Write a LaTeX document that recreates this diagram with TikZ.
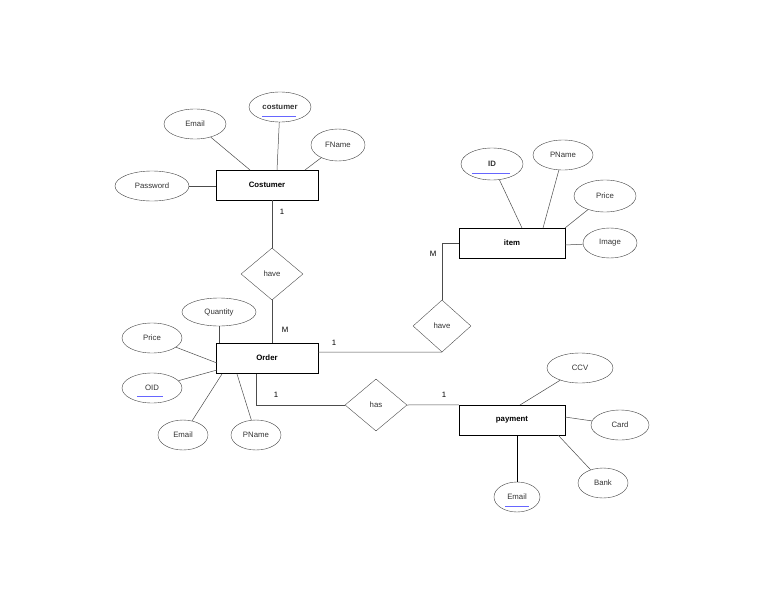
\documentclass[tikz,border=0pt]{standalone}
\usepackage{fontspec}
\setmainfont{Liberation Sans}
\usetikzlibrary{shapes.geometric}
\begin{document}
\begin{tikzpicture}[x=1pt,y=-1pt,font=\fontsize{7.8}{9}\selectfont,
  ent/.style={draw,minimum width=102pt,minimum height=30pt,font=\fontsize{7.8}{9}\selectfont\bfseries,inner sep=0pt},
  att/.style={draw,ellipse,inner sep=0pt,color=black!75,text=black!80},
  rel/.style={draw,diamond,aspect=1.2,minimum width=62pt,minimum height=52pt,inner sep=0pt,color=black!70,text=black!80},
  ln/.style={draw,black!70,line width=0.5pt},
  ul/.style={draw,blue!60!white,line width=0.6pt}]
\useasboundingbox (0,0) rectangle (768,594);
% Costumer
\node[ent] (cost) at (267,185) {Costumer};
\node[att,minimum width=62pt,minimum height=30pt] (cemail) at (195,124) {Email};
\node[att,minimum width=62pt,minimum height=30pt,font=\fontsize{7.8}{9}\selectfont\bfseries] (cid) at (280,107) {costumer};
\draw[ul] (262,116) -- (296,116);
\node[att,minimum width=54pt,minimum height=32pt] (cfn) at (338,145) {FName};
\node[att,minimum width=74pt,minimum height=30pt] (cpw) at (152,186) {Password};
\coordinate (c1) at (250,170); \coordinate (c2) at (277,170); \coordinate (c3) at (305,170);
\draw[ln] (cemail) -- (c1); \draw[ln] (cid) -- (c2); \draw[ln] (cfn) -- (c3); \draw[ln] (cpw) -- (cost.west|-cpw);
% have 1
\node[rel] (have1) at (272,274) {have};
\coordinate (hc) at (272,200);
\draw[ln] (hc) -- (have1.north);
\node[ent] (order) at (267,358) {Order};
\coordinate (ho) at (272,343);
\draw[ln] (have1.south) -- (ho);
\node at (282,212) {1};
\node at (285,330) {M};
% Order attrs
\node[att,minimum width=74pt,minimum height=28pt] (oq) at (219,312) {Quantity};
\node[att,minimum width=60pt,minimum height=30pt] (opr) at (152,338) {Price};
\node[att,minimum width=60pt,minimum height=30pt] (oid) at (152,388) {OID};
\draw[ul] (137,396) -- (163,396);
\node[att,minimum width=50pt,minimum height=30pt] (oem) at (183,435) {Email};
\node[att,minimum width=50pt,minimum height=30pt] (opn) at (256,435) {PName};
\coordinate (o1) at (219,343); \coordinate (o2) at (217,363); \coordinate (o3) at (217,370);
\coordinate (o4) at (222,374); \coordinate (o5) at (237,374);
\draw[ln] (oq) -- (o1); \draw[ln] (opr) -- (o2); \draw[ln] (oid) -- (o3);
\draw[ln] (oem) -- (o4); \draw[ln] (opn) -- (o5);
% item
\node[ent,minimum width=106pt] (item) at (512,243) {item};
\node[rel,minimum width=58pt] (have2) at (442,326) {have};
\coordinate (ob) at (318,352);
\draw[ln] (ob) -- (have2.south);
\draw[ln,line width=0.7pt] (have2.north) |- (item.west);
\node at (334,343) {1};
\node at (433,254) {M};
\node[att,minimum width=62pt,minimum height=32pt,font=\fontsize{7.8}{9}\selectfont\bfseries] (iid) at (492,164) {ID};
\draw[ul] (472,173) -- (510,173);
\node[att,minimum width=60pt,minimum height=30pt] (ipn) at (563,155) {PName};
\node[att,minimum width=62pt,minimum height=32pt] (ipr) at (605,196) {Price};
\node[att,minimum width=54pt,minimum height=30pt] (iim) at (610,243) {Image};
\coordinate (i1) at (522,228); \coordinate (i2) at (543,228); \coordinate (i3) at (565,228); \coordinate (i4) at (565,245);
\draw[ln] (iid) -- (i1); \draw[ln] (ipn) -- (i2); \draw[ln] (ipr) -- (i3); \draw[ln] (iim) -- (i4);
% payment
\node[rel] (has) at (376,405) {has};
\node[ent,minimum width=106pt] (pay) at (512,420) {payment};
\coordinate (os) at (256,374);
\draw[ln] (os) |- (has.west);
\draw[ln] (has.east) -- (pay.north west);
\node at (276,395) {1};
\node at (444,395) {1};
\node[att,minimum width=66pt,minimum height=30pt] (pccv) at (580,368) {CCV};
\node[att,minimum width=58pt,minimum height=30pt] (pcard) at (620,425) {Card};
\node[att,minimum width=50pt,minimum height=30pt] (pbank) at (603,483) {Bank};
\node[att,minimum width=46pt,minimum height=30pt] (pem) at (517,497) {Email};
\draw[ul] (505,506) -- (529,506);
\coordinate (p1) at (520,405); \coordinate (p2) at (565,417); \coordinate (p3) at (558,435); \coordinate (p4) at (517,435);
\draw[ln] (pccv) -- (p1); \draw[ln] (pcard) -- (p2); \draw[ln] (pbank) -- (p3);
\draw[black,line width=1pt] (p4) -- (pem);
\end{tikzpicture}
\end{document}
